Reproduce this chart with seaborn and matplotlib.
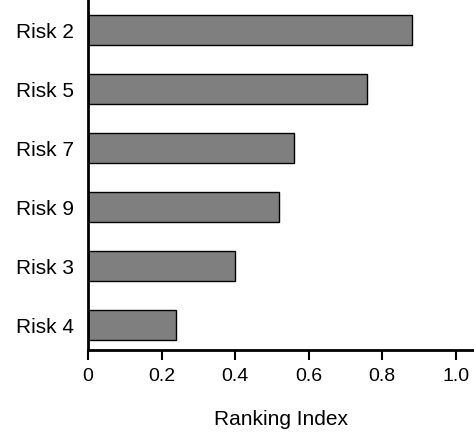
import matplotlib
matplotlib.use("Agg")
import matplotlib.pyplot as plt
import seaborn as sns
import pandas as pd

risks = ["Risk 2", "Risk 5", "Risk 7", "Risk 9", "Risk 3", "Risk 4"]
values = [0.88, 0.76, 0.56, 0.52, 0.40, 0.24]
ticks = [0, 0.2, 0.4, 0.6, 0.8, 1.0]
tick_labels = ["0", "0.2", "0.4", "0.6", "0.8", "1.0"]

sns.set_style("ticks")
plt.rcParams['font.family'] = ['Liberation Sans', 'DejaVu Sans']
plt.rcParams['text.color'] = 'black'
plt.rcParams['axes.labelcolor'] = 'black'
plt.rcParams['xtick.color'] = 'black'
plt.rcParams['ytick.color'] = 'black'
plt.rcParams['axes.edgecolor'] = 'black'

fig = plt.figure(figsize=(4.74, 4.44), dpi=100)
ax = fig.add_axes([0.186, 0.212, 0.814, 0.788])
df = pd.DataFrame({"risk": risks, "value": values})
sns.barplot(data=df, x="value", y="risk", orient="h", color="#7f7f7f",
            saturation=1, edgecolor="black", linewidth=1, width=0.5, ax=ax)
ax.set_xlim(0, 1.05)
ax.set_ylim(5.42, -0.51)
ax.set_xticks(ticks)
ax.set_xticklabels(tick_labels, fontsize=14)
ax.tick_params(axis="y", length=0, labelsize=15, pad=10)
ax.tick_params(axis="x", direction="out", length=7, width=1.5, labelsize=14, pad=6)
ax.set_xlabel("Ranking Index", fontsize=15, labelpad=18)
ax.set_ylabel("")
for s in ["top", "right"]:
    ax.spines[s].set_visible(False)
for s in ["left", "bottom"]:
    ax.spines[s].set_linewidth(2)
fig.savefig("out.png", dpi=100)
